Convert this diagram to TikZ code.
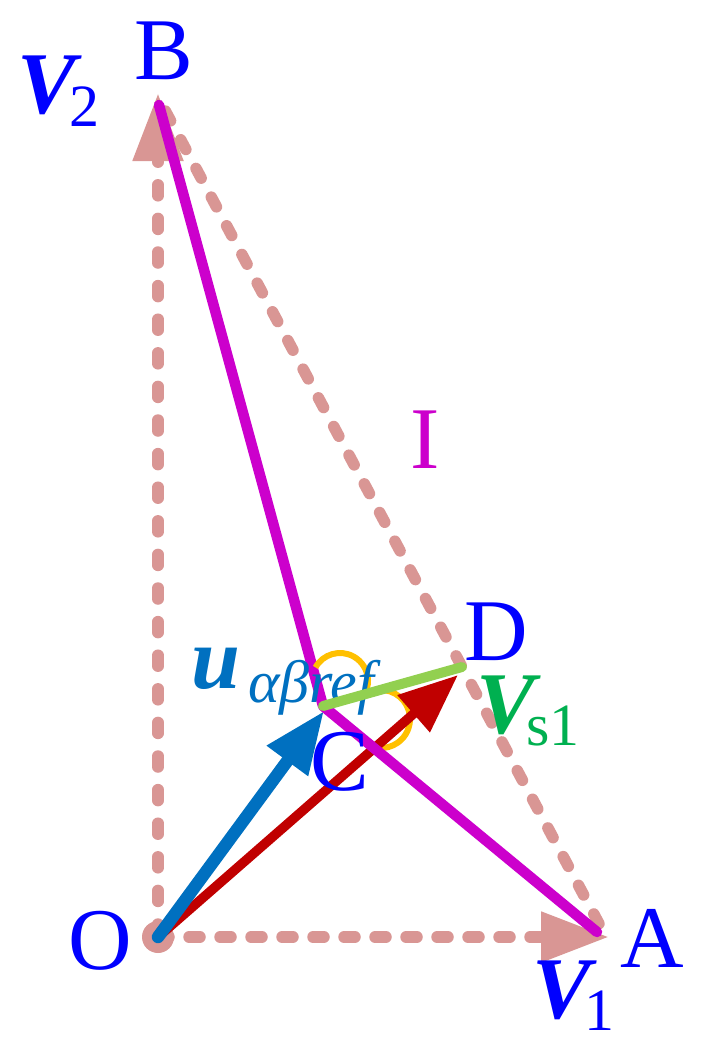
\documentclass[tikz,border=0pt]{standalone}
\usepackage{fontspec}
\setmainfont{Liberation Serif}
\usetikzlibrary{arrows.meta}
\definecolor{pinkd}{HTML}{D99694}
\definecolor{magL}{HTML}{CC00CC}
\definecolor{blueT}{HTML}{0000FF}
\definecolor{blueA}{HTML}{0070C0}
\definecolor{redA}{HTML}{C00000}
\definecolor{greenL}{HTML}{92D050}
\definecolor{greenT}{HTML}{00B050}
\definecolor{orangeA}{HTML}{FFC000}
\begin{document}
\begin{tikzpicture}[x=1pt,y=-1pt,
  big/.style={inner sep=0pt, anchor=base, font=\fontsize{88}{90}\selectfont},
  small/.style={inner sep=0pt, anchor=base, font=\fontsize{60}{62}\selectfont},
  pinkdash/.style={draw=pinkd, line width=11.5pt, line cap=round},
  pinkhead/.style={-{Triangle[length=68pt,width=48pt]}},
  arcline/.style={draw=orangeA, line width=6pt},
]
\useasboundingbox (0,0) rectangle (704,1049);
% points
\coordinate (O) at (158,937);
\coordinate (Ov) at (158,935);
\coordinate (Btip) at (158,93);
\coordinate (B) at (159,105);
\coordinate (Bd) at (165.4,111.1);
\coordinate (Atip) at (609,937);
\coordinate (A) at (597,932);
\coordinate (Ad) at (605,935);
\coordinate (C) at (323,706);
\coordinate (Ctip) at (324,711);
\coordinate (D) at (462,667);
\coordinate (Dtip) at (458,675);
\coordinate (K1) at (340,681);
\coordinate (K2) at (381,719);
% origin dot
\fill[pinkd] (O) circle[radius=16];
% dashed axes and hypotenuse
\draw[pinkdash, pinkhead, dash pattern=on 11pt off 22.6pt] (Ov) -- (Btip);
\draw[pinkdash, pinkhead, dash pattern=on 11pt off 20pt] (O) -- (Atip);
\draw[pinkdash, dash pattern=on 11pt off 21.5pt] (Bd) -- (Ad);
% lower orange arc
\draw[arcline] (K2) ++(-95:29) arc[start angle=-95, end angle=95, radius=29];
% red and blue vectors
\draw[draw=redA, fill=redA, line width=9.5pt, line cap=round, -{Triangle[length=59pt,width=47pt]}] (O) -- (Dtip);
\draw[draw=blueA, fill=blueA, line width=12.5pt, line cap=round, -{Triangle[length=62pt,width=48pt]}] (O) -- (Ctip);
% magenta path
\draw[draw=magL, line width=10.5pt, line cap=round, line join=round] (B) -- (C) -- (A);
% upper orange arc
\draw[arcline] (K1) ++(209:28) arc[start angle=209, end angle=392, radius=28];
% labels
\node[big, text=blueT] (lB) at (164,79) {B};
\node[big, text=blueT] (lO) at (100,969) {O};
\node[big, text=blueT] (lA) at (652,967) {A};
\node[big, text=blueT] (lD) at (496,660) {D};
\node[big, text=blueT] (lC) at (340,790) {C};
\node[big, text=magL] (lI) at (425,468) {I};
\node[big, text=blueT] (lV2) at (47,113) {\bfseries\itshape V};
\node[small, text=blueT] (lV2s) at (84,126) {2};
\node[big, text=blueT] (lV1) at (562,1018) {\bfseries\itshape V};
\node[small, text=blueT] (lV1s) at (599,1030) {1};
\node[big, text=greenT] (lVs) at (506,733) {\bfseries\itshape V};
\node[small, text=greenT] (lVss) at (553,745) {s1};
\node[big, text=blueA] (lu) at (216,688) {\bfseries\itshape u};
\node[small, text=blueA] (lus) at (311,702) {\itshape αβref};
% green segment
\draw[draw=greenL, line width=10pt, line cap=round] (C) -- (D);
\end{tikzpicture}
\end{document}
